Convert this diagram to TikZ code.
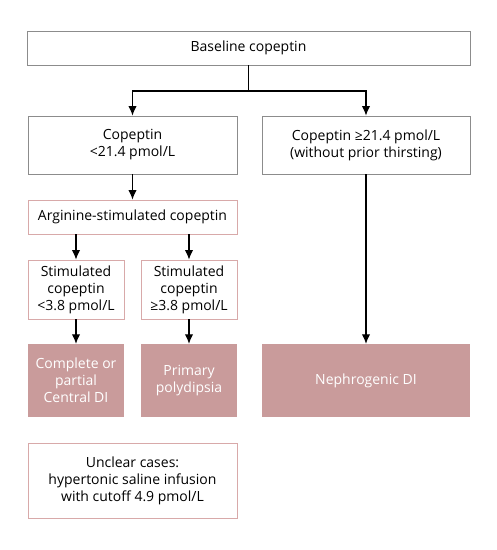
\documentclass[tikz,border=0pt]{standalone}
\usepackage{fontspec}
\setmainfont{Open Sans}
\usepackage{tikz}
\usetikzlibrary{arrows.meta,calc}
\definecolor{boxgray}{HTML}{8C8C8C}
\definecolor{boxpink}{HTML}{D8A9A9}
\definecolor{dxfill}{HTML}{C99B9B}

\begin{document}
\begin{tikzpicture}[x=1pt,y=-1pt,>={Latex[length=9.5pt,width=8.5pt]},
		greybox/.style={draw=boxgray,line width=0.9pt,align=center,inner sep=0pt,font=\fontsize{14}{17}\selectfont},
		pinkbox/.style={draw=boxpink,line width=0.9pt,align=center,inner sep=0pt,font=\fontsize{14}{17}\selectfont},
		dxbox/.style={fill=dxfill,text=white,align=center,inner sep=0pt,font=\fontsize{14}{17}\selectfont},
		arr/.style={->,line width=1.1pt}]
		\useasboundingbox (0,0) rectangle (497,550);
		\node[greybox,minimum width=443,minimum height=34] (base) at (248.5,48) {Baseline copeptin};
		\node[greybox,minimum width=209,minimum height=58] (low) at (132.5,145) {Copeptin\\<21.4 pmol/L};
		\node[greybox,minimum width=208,minimum height=58] (high) at (366,145) {Copeptin ≥21.4 pmol/L\\(without prior thirsting)};
		\node[pinkbox,minimum width=209,minimum height=34] (arg) at (132.5,217) {Arginine-stimulated copeptin};
		\node[pinkbox,minimum width=96,minimum height=59] (stimlow) at (76,289.5) {Stimulated\\copeptin\\<3.8 pmol/L};
		\node[pinkbox,minimum width=96,minimum height=59] (stimhigh) at (189,289.5) {Stimulated\\copeptin\\≥3.8 pmol/L};
		\node[dxbox,minimum width=96,minimum height=73] (central) at (76,380.5) {Complete or\\partial\\Central DI};
		\node[dxbox,minimum width=96,minimum height=73] (poly) at (189,380.5) {Primary\\polydipsia};
		\node[dxbox,minimum width=208,minimum height=73] (nephro) at (366,380.5) {Nephrogenic DI};
		\node[pinkbox,minimum width=209,minimum height=75] (unclear) at (132.5,480.5) {Unclear cases:\\hypertonic saline infusion\\with cutoff 4.9 pmol/L};
		\coordinate (fork) at (248.5,91);
		\draw[line width=1.1pt] (base) -- (fork);
		\draw[arr] (fork) -| (low);
		\draw[arr] (fork) -| (high);
		\draw[arr] (low) -- (arg);
		\path[arr] (stimlow.north |- arg.south) edge (stimlow)
			(stimhigh.north |- arg.south) edge (stimhigh)
			(stimlow) edge (central)
			(stimhigh) edge (poly)
			(high) edge (nephro);
	\end{tikzpicture}
\end{document}
